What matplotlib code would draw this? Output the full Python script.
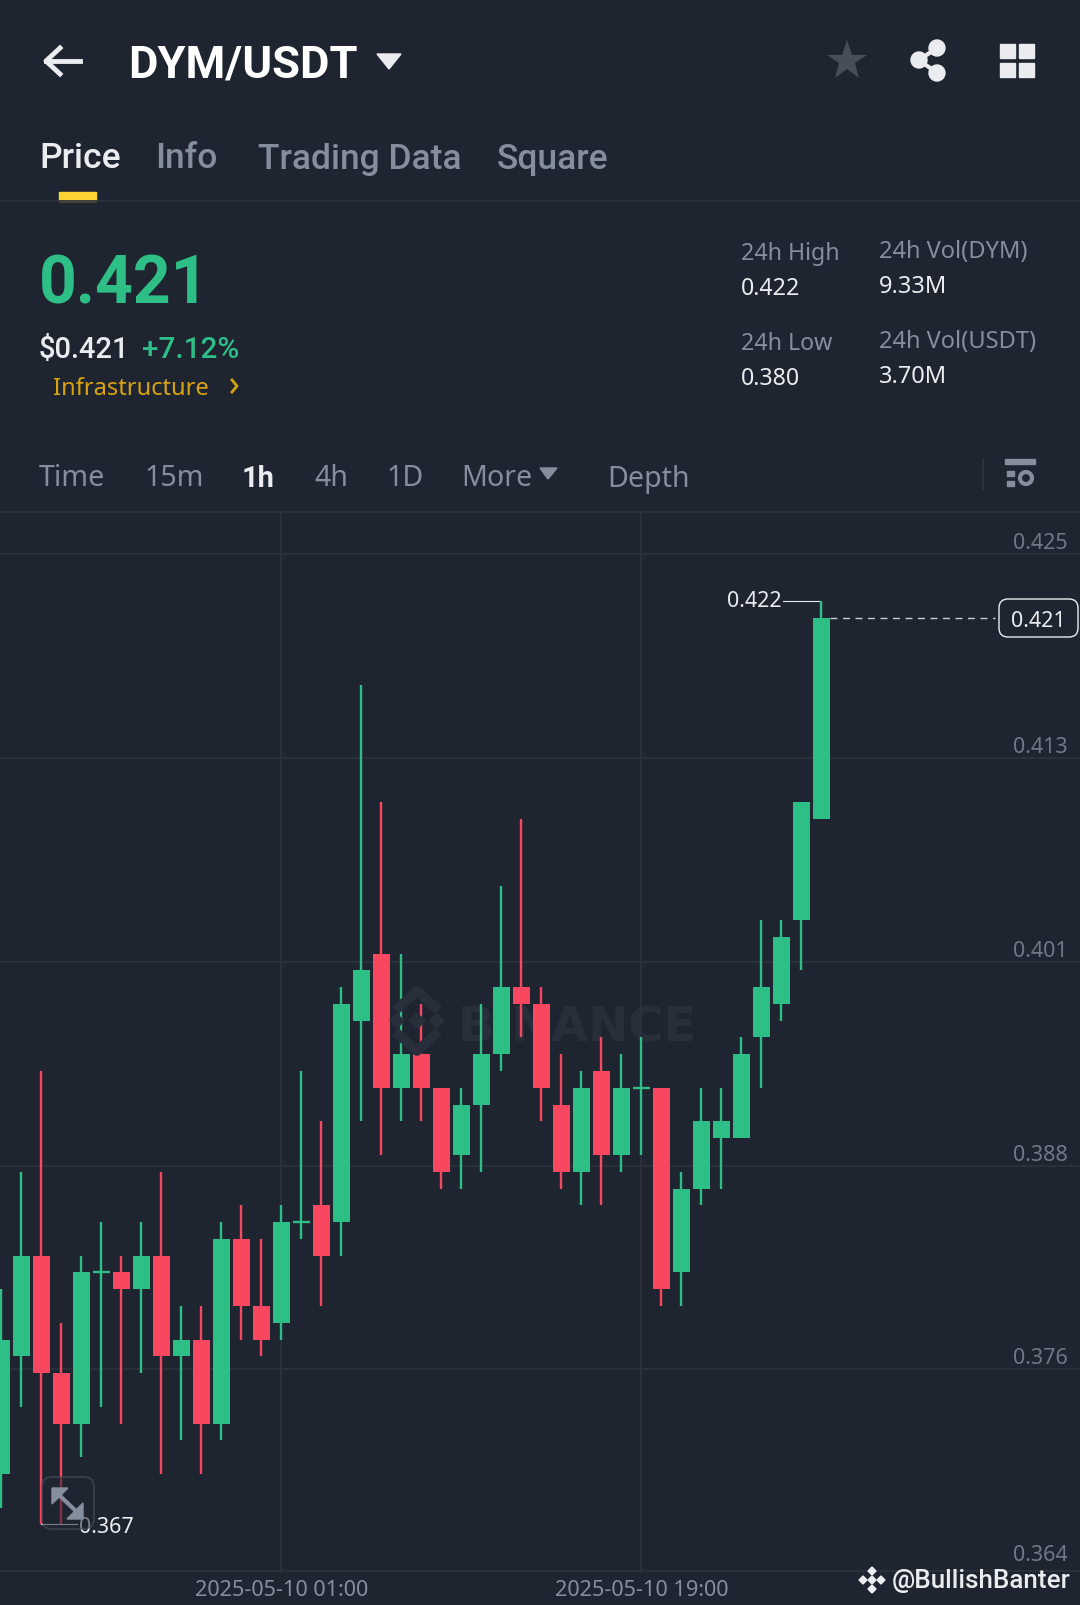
from matplotlib import pyplot as plt
from matplotlib.patches import FancyBboxPatch, Rectangle, Polygon, Circle
from matplotlib.transforms import ScaledTranslation

plt.rcParams['font.family'] = ['Noto Sans', 'DejaVu Sans']

# hourly candles, left to right
opens = [0.370, 0.377, 0.383, 0.376, 0.373, 0.382, 0.382, 0.381, 0.383, 0.377, 0.378,
         0.373, 0.384, 0.380, 0.379, 0.385, 0.386, 0.385, 0.397, 0.401, 0.393, 0.395,
         0.393, 0.389, 0.392, 0.395, 0.399, 0.398, 0.392, 0.388, 0.394, 0.389, 0.393,
         0.393, 0.382, 0.387, 0.390, 0.390, 0.396, 0.398, 0.403, 0.409]
closes = [0.378, 0.383, 0.376, 0.373, 0.382, 0.382, 0.381, 0.383, 0.377, 0.378, 0.373,
          0.384, 0.380, 0.378, 0.385, 0.385, 0.383, 0.398, 0.400, 0.393, 0.395, 0.393,
          0.388, 0.392, 0.395, 0.399, 0.398, 0.393, 0.388, 0.393, 0.389, 0.393, 0.393,
          0.381, 0.387, 0.391, 0.391, 0.395, 0.399, 0.402, 0.410, 0.421]
highs = [0.381, 0.388, 0.394, 0.379, 0.383, 0.385, 0.383, 0.385, 0.388, 0.380, 0.380,
         0.385, 0.386, 0.384, 0.386, 0.394, 0.391, 0.399, 0.417, 0.410, 0.401, 0.398,
         0.393, 0.393, 0.398, 0.405, 0.409, 0.399, 0.395, 0.394, 0.396, 0.395, 0.396,
         0.393, 0.388, 0.393, 0.393, 0.396, 0.403, 0.403, 0.410, 0.422]
lows = [0.368, 0.374, 0.367, 0.367, 0.371, 0.374, 0.373, 0.376, 0.370, 0.372, 0.370,
        0.372, 0.378, 0.377, 0.378, 0.384, 0.380, 0.383, 0.391, 0.389, 0.391, 0.391,
        0.387, 0.387, 0.388, 0.394, 0.396, 0.391, 0.387, 0.386, 0.386, 0.388, 0.389,
        0.380, 0.380, 0.386, 0.387, 0.390, 0.393, 0.397, 0.400, 0.409]

grid_prices = [0.42478, 0.41264, 0.40051, 0.38837, 0.37625, 0.36422]
price_labels = ['0.425', '0.413', '0.401', '0.388', '0.376', '0.364']
time_ticks = [14, 32]
time_labels = ['2025-05-10 01:00', '2025-05-10 19:00']

tabs = ['Price', 'Info', 'Trading Data', 'Square']
intervals = ['Time', '15m', '1h', '4h', '1D', 'More', 'Depth']

BG = '#1E2530'
GREEN = '#2EBF87'
RED = '#F9475F'
GREY = '#848E9C'
WHITE = '#EAECEF'
LINE = '#2C323C'
W, H = 1080, 1606

fig = plt.figure(figsize=(W / 100, H / 100), dpi=100, facecolor=BG)

# watermark sits behind the candles
fig.text(458 / W, 1 - 1041 / H, 'BINANCE', color='#292F3A', fontsize=34.5, fontweight='bold', family='DejaVu Sans', va='baseline', zorder=0)

# chart axes, px 514 to 1574 in height
ax = fig.add_axes([0, 1 - 1574 / H, 1, (1574 - 514) / H], zorder=1)
ax.patch.set_alpha(0)
ax.set_xlim(-0.0665, 53.93)
ax.set_ylim(0.36410, 0.42724)
for s in ax.spines.values():
    s.set_visible(False)

ax.set_yticks(grid_prices)
ax.set_yticklabels(price_labels, color='#6F7885', fontsize=15.5, va='bottom', ha='right')
ax.yaxis.tick_right()
ax.tick_params(axis='y', length=0, pad=-9)
# labels ride above their gridlines, the bottom one a bit higher
for n, tl in enumerate(ax.get_yticklabels()):
    up = 6 if n == len(price_labels) - 1 else 1
    tl.set_transform(tl.get_transform() + ScaledTranslation(0, up / 100, fig.dpi_scale_trans))
ax.set_xticks(time_ticks)
ax.set_xticklabels(time_labels, color=GREY, fontsize=15.6)
ax.tick_params(axis='x', length=0, pad=4)
ax.grid(True, color=LINE, linewidth=1.3)
ax.set_axisbelow(True)

xs = list(range(len(opens)))
for i in xs:
    col = RED if closes[i] < opens[i] else GREEN
    ax.vlines(i, lows[i], highs[i], color=col, linewidth=1.7, zorder=2)
    if opens[i] == closes[i]:
        ax.hlines(opens[i], i - 0.44, i + 0.44, color=col, linewidth=1.7, zorder=3)
    else:
        ax.bar(i, abs(closes[i] - opens[i]), bottom=min(opens[i], closes[i]), width=0.875, color=col, zorder=3)

# last price line and high/low callouts
ax.hlines(closes[-1], xs[-1] + 0.44, 49.7, color='#C9CDD3', linewidth=1, linestyles=(0, (5, 4)), zorder=2)
ax.plot([39.1, xs[-1], xs[-1]], [highs[-1], highs[-1], closes[-1]], color=WHITE, linewidth=0.8, zorder=1)
ax.text(39, max(highs), '0.422', color=WHITE, fontsize=15.5, ha='right', va='center')
ax.plot([2, 3.8], [min(lows), min(lows)], color=WHITE, linewidth=0.8, zorder=2)
ax.text(3.9, min(lows) - 0.00012, '0.367', color=WHITE, fontsize=15.5, ha='left', va='center')

# app chrome drawn in pixel coordinates
ui = fig.add_axes([0, 0, 1, 1], zorder=2)
ui.patch.set_alpha(0)
ui.set_xlim(0, W)
ui.set_ylim(H, 0)
ui.axis('off')


def label(x, y, s, color=GREY, size=20, family='Noto Sans', weight='normal', ha='left'):
    ui.text(x, y, s, color=color, fontsize=size, family=family, fontweight=weight, ha=ha, va='center')


# header
ui.plot([46, 80], [62, 62], color=WHITE, linewidth=3.5)
ui.plot([60, 46, 60], [49, 62, 75], color=WHITE, linewidth=3.5)
label(128, 65, 'DYM/USDT', color='white', size=32.7, family='Roboto', weight='bold')
ui.add_patch(Polygon([[377, 55], [401, 55], [389, 70]], color=WHITE))
ui.plot(847, 62, marker='*', ms=30, color='#474D59', mew=0)
for cx, cy in [(919, 61), (937, 49), (937, 74)]:
    ui.add_patch(Circle((cx, cy), 8, color=WHITE))
ui.plot([937, 919, 937], [49, 61, 74], color=WHITE, linewidth=3)
for x0 in (1000, 1019):
    for y0 in (45, 64):
        ui.add_patch(Rectangle((x0, y0), 15, 14, color=WHITE))

# tabs
for t, x in zip(tabs, [39, 155, 258, 497]):
    if t == 'Price':
        label(x, 159, t, color=WHITE, size=25.5, family='Roboto', weight='medium')
    else:
        label(x, 159, t, size=25.5, family='Roboto', weight='medium')
ui.add_patch(Rectangle((59, 193), 37, 9, color='#FCD535'))
ui.plot([0, W], [202, 202], color=LINE, linewidth=1.3)

# price block
label(39, 285, '0.421', color=GREEN, size=47.5, family='Roboto', weight='bold')
label(39, 350, '$0.421', color=WHITE, size=21, family='Roboto', weight='medium')
label(142, 350, '+7.12%', color=GREEN, size=21.3, family='Roboto', weight='medium')
label(53, 389, 'Infrastructure', color='#D9A30F', size=17)
ui.plot([232, 237, 232], [381, 387, 393], color='#D9A30F', linewidth=2)

label(741, 254, '24h High', size=16.7)
label(741, 289, '0.422', color=WHITE, size=16.7)
label(741, 344, '24h Low', size=16.7)
label(741, 379, '0.380', color=WHITE, size=16.7)
label(879, 252, '24h Vol(DYM)', size=17)
label(879, 287, '9.33M', color=WHITE, size=17)
label(879, 342, '24h Vol(USDT)', size=17)
label(879, 377, '3.70M', color=WHITE, size=17)

# interval row
for t, x in zip(intervals, [39, 144, 242, 314, 386, 461, 607]):
    if t == '1h':
        label(x, 479, t, color=WHITE, size=21, family='Roboto', weight='bold')
    else:
        label(x, 479, t, size=20.6)
ui.add_patch(Polygon([[540, 469], [557, 469], [548, 480]], color=GREY))
ui.plot([983, 983], [460, 490], color=LINE, linewidth=1.5)
ui.add_patch(Rectangle((1005, 460), 30, 5, color=GREY))
ui.add_patch(Rectangle((1007, 472), 7, 5, color=GREY))
ui.add_patch(Rectangle((1007, 482), 7, 5, color=GREY))
ui.add_patch(Circle((1026, 479), 6, fill=False, ec=GREY, linewidth=3))
ui.plot([0, W], [513, 513], color=LINE, linewidth=1.3)

# watermark logo
for cx, cy, r in [(417, 1022, 8), (397, 1022, 7), (437, 1022, 7)]:
    ui.add_patch(Polygon([[cx - r, cy], [cx, cy - r], [cx + r, cy], [cx, cy + r]], color='#292F3A', zorder=0))
ui.plot([399, 417, 435], [1008, 992, 1008], color='#292F3A', linewidth=7, zorder=0)
ui.plot([399, 417, 435], [1036, 1052, 1036], color='#292F3A', linewidth=7, zorder=0)

# last price tag
ui.add_patch(FancyBboxPatch((999, 600), 79, 38, boxstyle='round,pad=0,rounding_size=9', fc=BG, ec=WHITE, linewidth=1))
label(1038.5, 622, '0.421', color=WHITE, size=15.5, ha='center')

# expand button
ui.add_patch(FancyBboxPatch((42, 1478), 52, 52, boxstyle='round,pad=0,rounding_size=10', fc=BG, alpha=0.55, ec='#4A505C', linewidth=1.5))
ui.plot([58, 78], [1495, 1514], color=GREY, linewidth=3)
ui.add_patch(Polygon([[52, 1489], [68, 1489], [52, 1505]], color=GREY))
ui.add_patch(Polygon([[83, 1520], [67, 1520], [83, 1504]], color=GREY))

# source tag
cx, cy = 872, 1581
for dx, dy in [(0, -9), (-9, 0), (9, 0), (0, 9), (0, 0)]:
    r = 4
    ui.add_patch(Polygon([[cx + dx - r, cy + dy], [cx + dx, cy + dy - r], [cx + dx + r, cy + dy], [cx + dx, cy + dy + r]], color=WHITE))
label(892, 1581, '@BullishBanter', color=WHITE, size=18.7, family='Roboto', weight='medium')

fig.savefig('out.png', dpi=100, facecolor=BG)
